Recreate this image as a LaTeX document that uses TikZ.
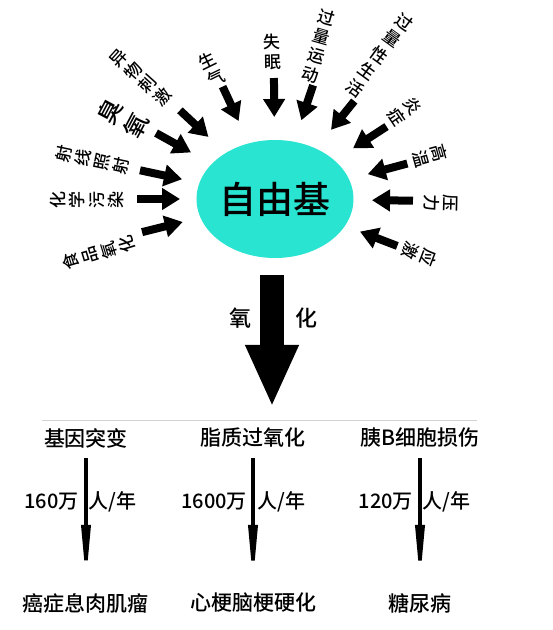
\documentclass[tikz,border=0pt]{standalone}
\usepackage{fontspec}
\setmainfont{Noto Sans CJK SC}[UprightFont={* Medium}]
\usetikzlibrary{shapes.geometric,arrows.meta,calc}
\definecolor{jicyan}{RGB}{40,228,208}
\begin{document}
\begin{tikzpicture}[x=1pt,y=1pt]
  \tikzstyle{cause}=[align=center, inner sep=0pt]
  \tikzstyle{spoke}=[line width=8pt, -{Triangle[length=18pt,width=21pt]}]
  \tikzstyle{bigdown}=[line width=24pt, -{Triangle[length=62pt,width=49pt]}]
  \tikzstyle{down}=[line width=3.5pt, -{Triangle[length=58pt,width=9pt]}, shorten <=10pt, shorten >=10pt]
  \tikzstyle{row}=[inner sep=0pt, font=\fontsize{21}{21}\selectfont]
  \tikzstyle{rate}=[inner sep=0pt, font=\fontsize{20}{20}\selectfont]

  \fill[white] (0,0) rectangle (553,630);
  \useasboundingbox (0,0) rectangle (553,630);

  \node[ellipse, fill=jicyan, minimum width=144pt, minimum height=118pt, inner sep=0pt,
        font=\fontsize{37}{37}\selectfont] (zyj) at (275,431) {自由基};

  % causes round the ellipse
  \foreach \la/\lr/\aa/\sr/\er/\fs/\ls/\txt [count=\i] in {
      91/147/90.5/121/82/17/19.5/{失\\眠},
      74/159/71.5/120/83/17/19.5/{过\\量\\运\\动},
      54/178/51/126/89/17/20.5/{过\\量\\性\\生\\活},
      34/156/33/133/93/17/19.5/{炎\\症},
      15.5/161/15/137/96/17/19.5/{高\\温},
      -1.4/166/-0.7/138/97/17/19.5/{压\\力},
      -21/155/-21/131/91/17/19.5/{应\\激},
      197/184/194/137/95/17/19.5/{食\\品\\氧\\化},
      180.3/188/180/138/95/17/19.5/{化\\学\\污\\染},
      168/187/168/138/95/17/19.5/{射\\线\\照\\射},
      152/172/151/136/96/24/30/{臭\\氧},
      138/181/137/130/91/17/19.5/{异\\物\\刺\\激},
      116/144/115/124/86/17/19.5/{生\\气}}{
    \node[cause, rotate=\la-90, font=\fontsize{\fs}{\ls}\selectfont]
      (c\i) at ($(zyj.center)+(\la:\lr)$) {\txt};
    \coordinate (s\i) at ($(zyj.center)+(\aa:\sr)$);
    \coordinate (e\i) at ($(zyj.center)+(\aa:\er)$);
    \draw[spoke] (s\i) -- (e\i);
  }

  % oxidation
  \coordinate (ox) at (272,355);
  \coordinate (oxtip) at (272,223);
  \draw[bigdown] (ox) -- (oxtip);
  \node[font=\fontsize{22}{22}\selectfont] (yang) at (240,312) {氧};
  \node[font=\fontsize{22}{22}\selectfont] (hua) at (306,312) {化};

  \coordinate (l1) at (42,209);
  \coordinate (l2) at (477,209);
  \draw[gray!35, line width=1pt] (l1) -- (l2);

  % three results
  \node[row] (t1) at (86,192) {基因突变};
  \node[row] (t2) at (253,192) {脂质过氧化};
  \node[row] (t3) at (420,192) {胰B细胞损伤};

  \node[rate, anchor=east] (n1) at (79,128) {160万};
  \node[rate, anchor=west] (p1) at (88,128) {人/年};
  \node[rate, anchor=east] (n2) at (247,128) {1600万};
  \node[rate, anchor=west] (p2) at (257,128) {人/年};
  \node[rate, anchor=east] (n3) at (413,128) {120万};
  \node[rate, anchor=west] (p3) at (422,128) {人/年};

  \node[row] (d1) at (86,27) {癌症息肉肌瘤};
  \node[row] (d2) at (253,27) {心梗脑梗硬化};
  \node[row] (d3) at (420,27) {糖尿病};

  \draw[down] (t1.south) -- (t1.south |- d1.north);
  \draw[down] (t2.south) -- (t2.south |- d2.north);
  \draw[down] (t3.south) -- (t3.south |- d3.north);
\end{tikzpicture}
\end{document}
